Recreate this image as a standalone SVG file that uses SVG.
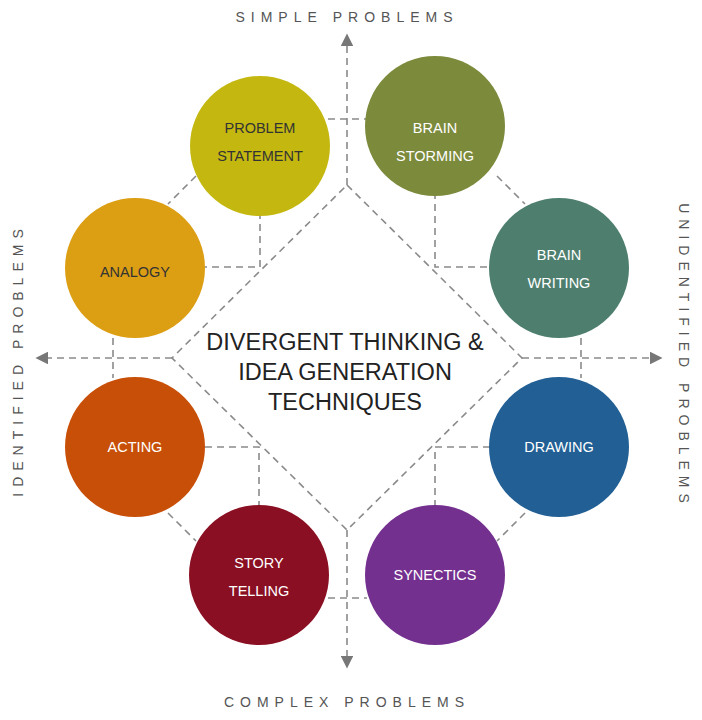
<svg xmlns="http://www.w3.org/2000/svg" width="702" height="720" viewBox="0 0 702 720">
<defs>
<style>
.d{fill:none;stroke:#8a8a8a;stroke-width:1.6;stroke-dasharray:7 5}
.ax{fill:none;stroke:#8a8a8a;stroke-width:1.6;stroke-dasharray:7 5}
.t{font-family:"Liberation Sans",Arial,sans-serif;font-size:14.5px;text-anchor:middle}
.w{fill:#fff}.k{fill:#333}
.lab{font-family:"Liberation Sans",Arial,sans-serif;font-size:14px;fill:#555;letter-spacing:6px;text-anchor:middle}
</style>
<marker id="ar" viewBox="0 0 10 10" refX="8" refY="5" markerWidth="8" markerHeight="8" orient="auto"><path d="M0,0 L10,5 L0,10z" fill="#777"/></marker>
</defs>
<rect width="702" height="720" fill="#fff"/>
<g id="connectors">
<line class="ax" x1="347" y1="185" x2="347" y2="36" marker-end="url(#ar)"/>
<line class="ax" x1="347" y1="530" x2="347" y2="666" marker-end="url(#ar)"/>
<line class="ax" x1="172" y1="358" x2="38" y2="358" marker-end="url(#ar)"/>
<line class="ax" x1="522" y1="358" x2="660" y2="358" marker-end="url(#ar)"/>
<polygon class="d" points="347,185 522,358 347,530 172,358"/>
<polyline class="d" points="260,212 260,267 205,267"/>
<polyline class="d" points="435,192 435,267 490,267"/>
<polyline class="d" points="205,447 259,447 259,508"/>
<polyline class="d" points="490,447 435,447 435,508"/>
<line class="d" x1="328" y1="119" x2="367" y2="119"/>
<line class="d" x1="328" y1="598" x2="367" y2="598"/>
<line class="d" x1="113" y1="338" x2="113" y2="378"/>
<line class="d" x1="581" y1="338" x2="581" y2="378"/>
<line class="d" x1="196" y1="176" x2="168" y2="204"/>
<line class="d" x1="497" y1="176" x2="525" y2="204"/>
<line class="d" x1="168" y1="513" x2="196" y2="541"/>
<line class="d" x1="525" y1="513" x2="497" y2="541"/>
</g>
<g id="n1"><circle cx="260" cy="146" r="70" fill="#c4b810"/><text class="t k" x="260" y="133">PROBLEM</text><text class="t k" x="260" y="161">STATEMENT</text></g>
<g id="n2"><circle cx="435" cy="126" r="70" fill="#7c8a3c"/><text class="t w" x="435" y="133">BRAIN</text><text class="t w" x="435" y="161">STORMING</text></g>
<g id="n3"><circle cx="559" cy="268" r="70" fill="#4e7f6e"/><text class="t w" x="559" y="260">BRAIN</text><text class="t w" x="559" y="288">WRITING</text></g>
<g id="n4"><circle cx="559" cy="447" r="70" fill="#215f94"/><text class="t w" x="559" y="452">DRAWING</text></g>
<g id="n5"><circle cx="435" cy="575" r="70" fill="#74308f"/><text class="t w" x="435" y="580">SYNECTICS</text></g>
<g id="n6"><circle cx="259" cy="575" r="70" fill="#8a0f22"/><text class="t w" x="259" y="568">STORY</text><text class="t w" x="259" y="596">TELLING</text></g>
<g id="n7"><circle cx="135" cy="447" r="70" fill="#c84f08"/><text class="t w" x="135" y="452">ACTING</text></g>
<g id="n8"><circle cx="135" cy="268" r="70" fill="#dc9e13"/><text class="t k" x="135" y="277">ANALOGY</text></g>
<g id="center" font-family="Liberation Sans,Arial,sans-serif" font-size="23.5" fill="#222" text-anchor="middle">
<text x="345" y="350">DIVERGENT THINKING &amp;</text><text x="345" y="380">IDEA GENERATION</text><text x="345" y="410">TECHNIQUES</text></g>
<g id="labels">
<text class="lab" x="347" y="22">SIMPLE PROBLEMS</text>
<text class="lab" x="347" y="707">COMPLEX PROBLEMS</text>
<text class="lab" transform="translate(23,360) rotate(-90)">IDENTIFIED PROBLEMS</text>
<text class="lab" transform="translate(679,356) rotate(90)">UNIDENTIFIED PROBLEMS</text>
</g>
</svg>
